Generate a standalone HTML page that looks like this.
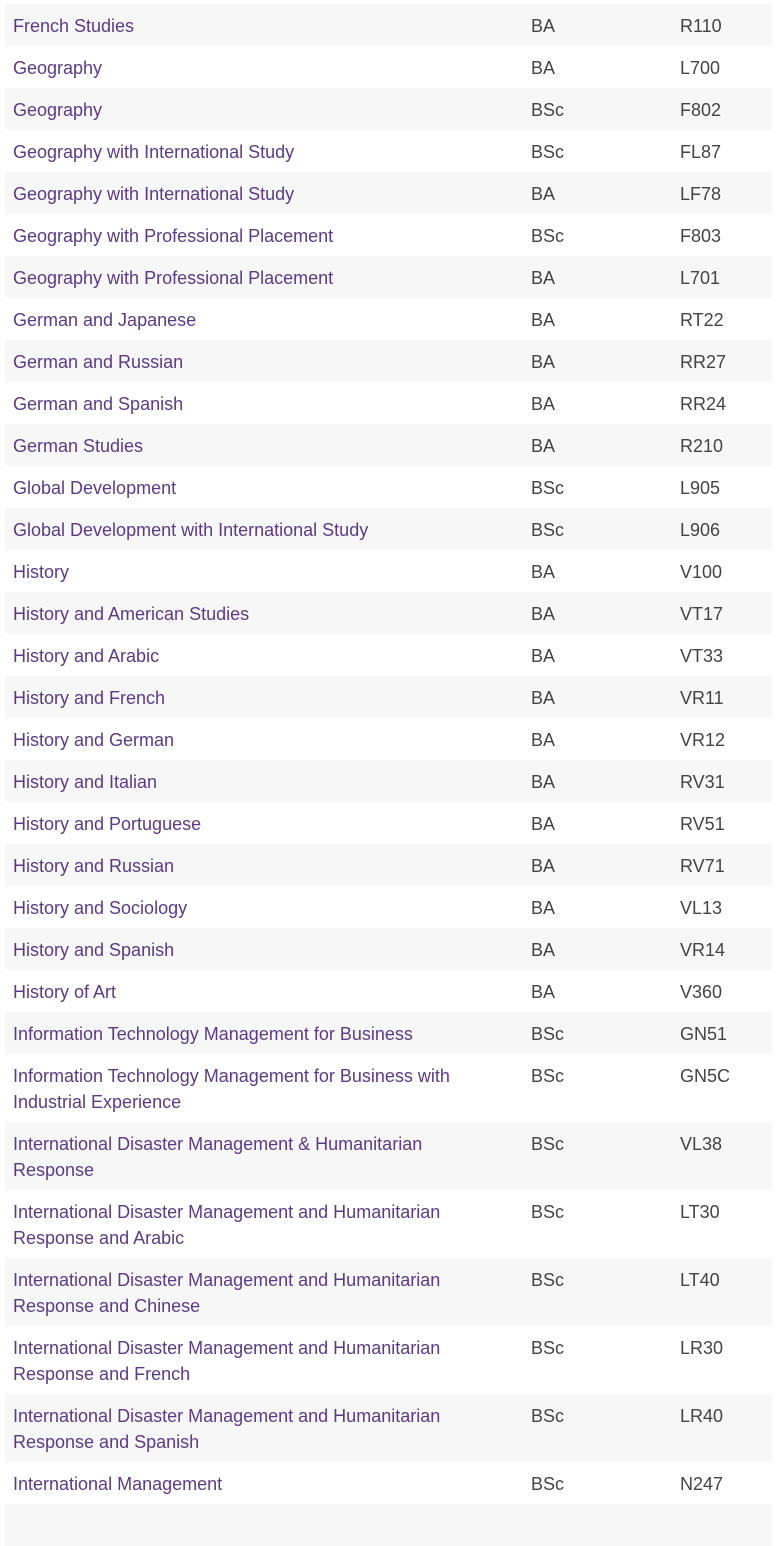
<!DOCTYPE html>
<html><head><meta charset="utf-8"><style>
html,body{margin:0;padding:0;background:#fff;width:776px;height:1512px;overflow:hidden}
table{position:absolute;left:5px;top:4px;width:767px;border-collapse:collapse;font-family:"Liberation Sans",sans-serif;font-size:18px;line-height:26px}
td{padding:9px 0 7px 8px;vertical-align:top;white-space:nowrap;color:#444}
td:first-child{color:#5b3b87;width:510px}
td:nth-child(2){width:141px}
tr:nth-child(odd){background:#f7f7f7}
</style></head><body>
<table>
<tr><td>French Studies</td><td>BA</td><td>R110</td></tr>
<tr><td>Geography</td><td>BA</td><td>L700</td></tr>
<tr><td>Geography</td><td>BSc</td><td>F802</td></tr>
<tr><td>Geography with International Study</td><td>BSc</td><td>FL87</td></tr>
<tr><td>Geography with International Study</td><td>BA</td><td>LF78</td></tr>
<tr><td>Geography with Professional Placement</td><td>BSc</td><td>F803</td></tr>
<tr><td>Geography with Professional Placement</td><td>BA</td><td>L701</td></tr>
<tr><td>German and Japanese</td><td>BA</td><td>RT22</td></tr>
<tr><td>German and Russian</td><td>BA</td><td>RR27</td></tr>
<tr><td>German and Spanish</td><td>BA</td><td>RR24</td></tr>
<tr><td>German Studies</td><td>BA</td><td>R210</td></tr>
<tr><td>Global Development</td><td>BSc</td><td>L905</td></tr>
<tr><td>Global Development with International Study</td><td>BSc</td><td>L906</td></tr>
<tr><td>History</td><td>BA</td><td>V100</td></tr>
<tr><td>History and American Studies</td><td>BA</td><td>VT17</td></tr>
<tr><td>History and Arabic</td><td>BA</td><td>VT33</td></tr>
<tr><td>History and French</td><td>BA</td><td>VR11</td></tr>
<tr><td>History and German</td><td>BA</td><td>VR12</td></tr>
<tr><td>History and Italian</td><td>BA</td><td>RV31</td></tr>
<tr><td>History and Portuguese</td><td>BA</td><td>RV51</td></tr>
<tr><td>History and Russian</td><td>BA</td><td>RV71</td></tr>
<tr><td>History and Sociology</td><td>BA</td><td>VL13</td></tr>
<tr><td>History and Spanish</td><td>BA</td><td>VR14</td></tr>
<tr><td>History of Art</td><td>BA</td><td>V360</td></tr>
<tr><td>Information Technology Management for Business</td><td>BSc</td><td>GN51</td></tr>
<tr><td>Information Technology Management for Business with<br>Industrial Experience</td><td>BSc</td><td>GN5C</td></tr>
<tr><td>International Disaster Management &amp; Humanitarian<br>Response</td><td>BSc</td><td>VL38</td></tr>
<tr><td>International Disaster Management and Humanitarian<br>Response and Arabic</td><td>BSc</td><td>LT30</td></tr>
<tr><td>International Disaster Management and Humanitarian<br>Response and Chinese</td><td>BSc</td><td>LT40</td></tr>
<tr><td>International Disaster Management and Humanitarian<br>Response and French</td><td>BSc</td><td>LR30</td></tr>
<tr><td>International Disaster Management and Humanitarian<br>Response and Spanish</td><td>BSc</td><td>LR40</td></tr>
<tr><td>International Management</td><td>BSc</td><td>N247</td></tr>
<tr><td>&nbsp;</td><td></td><td></td></tr>
</table>
</body></html>
